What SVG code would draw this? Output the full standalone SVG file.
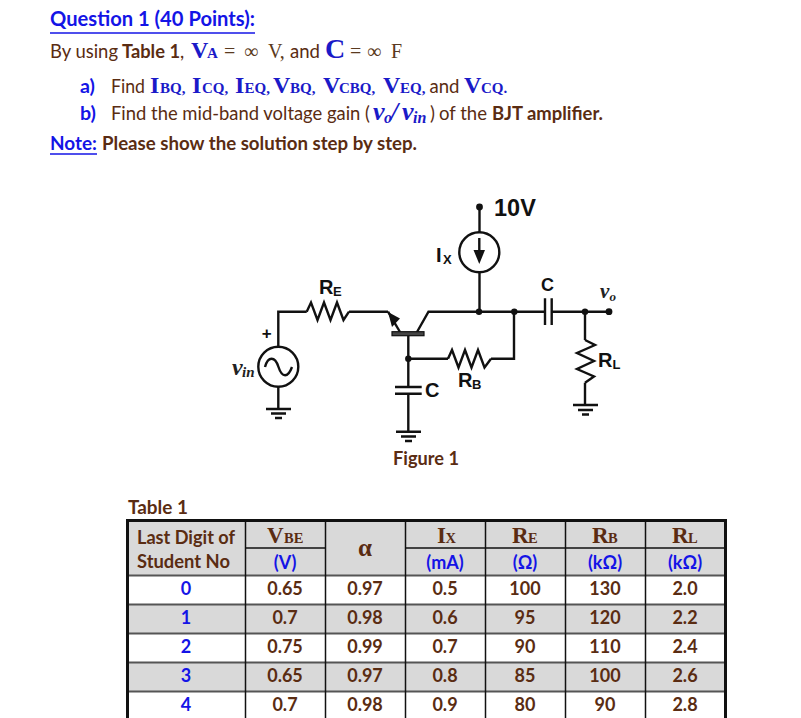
<svg xmlns="http://www.w3.org/2000/svg" width="801" height="718" viewBox="0 0 801 718">
<defs>
<style>
text{font-family:"Lato","Open Sans","Liberation Sans",sans-serif;fill:#5a2c12}
.p{font-size:18.5px}
.b{font-weight:700}
.blue{fill:#1414e6}
.title{font-size:21px;font-weight:700;fill:#1414e6}
.s{font-family:"Liberation Serif","DejaVu Serif",serif;font-weight:700;font-size:24px;fill:#1a1ac8}
.ss{font-family:"Liberation Serif","DejaVu Serif",serif;font-weight:700;font-size:15px;fill:#1a1ac8}
.sr{font-family:"Liberation Serif","DejaVu Serif",serif;font-size:20px;fill:#5a3a20}
.si{font-family:"Liberation Serif","DejaVu Serif",serif;font-weight:700;font-style:italic;font-size:26px;fill:#1a1ac8}
.sis{font-family:"Liberation Serif","DejaVu Serif",serif;font-weight:700;font-style:italic;font-size:16px;fill:#1a1ac8}
.c{font-family:"Liberation Sans",Arial,sans-serif;fill:#111;font-weight:700}
.ci{font-family:"Liberation Serif",serif;fill:#222;font-style:italic;font-weight:700}
.w{fill:none;stroke:#111;stroke-width:2.4;stroke-linejoin:miter}
.d{fill:#111}
.t{font-size:18px;font-weight:700;text-anchor:middle}
.h{font-family:"Liberation Serif","DejaVu Serif",serif;font-weight:700;font-size:23px;fill:#5a2c12}
.hs{font-family:"Liberation Serif","DejaVu Serif",serif;font-weight:700;font-size:14.5px;fill:#5a2c12}
.g{fill:#d9d9d9}
.l{stroke:#111;stroke-width:1.5;fill:none}
.lg{stroke:#555;stroke-width:2;fill:none}
.u{stroke:#1414e6;stroke-width:1.6}
</style>
</defs>
<rect width="801" height="718" fill="#fff"/>

<g id="question-text">
<text class="title" x="50" y="25.5" textLength="205" lengthAdjust="spacingAndGlyphs">Question 1 (40 Points):</text>
<line class="u" x1="50" y1="33" x2="255" y2="33"/>
<text class="p" x="50" y="58" textLength="68" lengthAdjust="spacingAndGlyphs">By using</text>
<text class="p b" x="122" y="58" textLength="58" lengthAdjust="spacingAndGlyphs">Table 1</text>
<text class="p" x="180" y="58">,</text>
<text class="s" x="191" y="58">V</text><text class="ss" x="207" y="58">A</text>
<text class="sr" x="224" y="58">=</text><text class="sr" x="244" y="58">∞</text><text class="sr" x="268" y="58">V,</text>
<text class="p" x="290" y="58" textLength="30" lengthAdjust="spacingAndGlyphs">and</text>
<text class="s" x="325" y="58" style="font-size:28px">C</text>
<text class="sr" x="350" y="58">=</text><text class="sr" x="367" y="58">∞</text><text class="sr" x="391" y="58">F</text>

<text class="p b blue" x="80" y="93" textLength="15" lengthAdjust="spacingAndGlyphs">a)</text>
<text class="p" x="111" y="93" textLength="34" lengthAdjust="spacingAndGlyphs">Find</text>
<text class="s" x="150" y="93">I</text><text class="ss" x="160" y="93">BQ,</text>
<text class="s" x="192" y="93">I</text><text class="ss" x="202" y="93">CQ,</text>
<text class="s" x="235" y="93">I</text><text class="ss" x="244.5" y="93">EQ,</text>
<text class="s" x="273" y="93">V</text><text class="ss" x="290" y="93">BQ,</text>
<text class="s" x="323" y="93">V</text><text class="ss" x="339" y="93">CBQ,</text>
<text class="s" x="383" y="93">V</text><text class="ss" x="400" y="93">EQ,</text>
<text class="p" x="429.5" y="93" textLength="30" lengthAdjust="spacingAndGlyphs">and</text>
<text class="s" x="464" y="93">V</text><text class="ss" x="481" y="93">CQ.</text>

<text class="p b blue" x="80" y="120" textLength="16" lengthAdjust="spacingAndGlyphs">b)</text>
<text class="p" x="111" y="120" textLength="259" lengthAdjust="spacingAndGlyphs">Find the mid-band voltage gain (</text>
<text class="si" x="373" y="120">v</text><text class="sis" x="384" y="123">o</text>
<text class="si" x="391" y="120">/</text>
<text class="si" x="402" y="120">v</text><text class="sis" x="413" y="123">in</text>
<text class="p" x="430" y="120">)</text>
<text class="p" x="439" y="120" textLength="48" lengthAdjust="spacingAndGlyphs">of the</text>
<text class="p b" x="492" y="120" textLength="111" lengthAdjust="spacingAndGlyphs">BJT amplifier.</text>

<text class="p b blue" x="50" y="150" textLength="47" lengthAdjust="spacingAndGlyphs">Note:</text>
<line class="u" x1="50" y1="154" x2="97" y2="154"/>
<text class="p b" x="102" y="150" textLength="315" lengthAdjust="spacingAndGlyphs">Please show the solution step by step.</text>
</g>

<g id="connectors">
<path class="w" d="M278.3 347V311.7H306.7"/>
<path class="w" d="M349 311.7H388"/>
<path class="w" d="M417 332L428.5 311.7H545"/>
<path class="w" d="M551.7 311.7H609"/>
<path class="w" d="M479.5 232V207"/>
<path class="w" d="M479.5 272V311.7"/>
<path class="w" d="M408.3 336V387"/>
<path class="w" d="M408.3 393.7V431.7"/>
<path class="w" d="M408.3 358.7H448"/>
<path class="w" d="M491 358.7H514V311.7"/>
<path class="w" d="M585 311.7V340"/>
<path class="w" d="M585 382.7V405"/>
<path class="w" d="M278.3 387V409"/>
<circle class="d" cx="479.5" cy="207" r="3.4"/>
<circle class="d" cx="479" cy="311.7" r="3.2"/>
<circle class="d" cx="514.3" cy="311.7" r="3.2"/>
<circle class="d" cx="585" cy="311.7" r="3.2"/>
<circle class="d" cx="609" cy="311.7" r="3.4"/>
<circle class="d" cx="408.3" cy="358.7" r="3.2"/>
</g>

<g id="source-vin">
<circle class="w" cx="278.3" cy="366.7" r="20"/>
<path class="w" d="M265 367C268 356 275 356 278.5 367S288 378 292 367"/>
<text class="c" x="266.7" y="339" font-size="17" text-anchor="middle">+</text>
<text class="ci" x="232" y="375" font-size="24">v</text><text class="ci" x="242" y="377" font-size="15">in</text>
<path class="w" d="M266 409H291M271 413.5H286M275 418H282"/>
</g>

<g id="resistor-re">
<path class="w" d="M306.7 311.7L311 302.5L317.5 320L324 302.5L330.5 320L337 302.5L343.5 320L349 311.7"/>
<text class="c" x="319" y="293.7" font-size="20">R</text><text class="c" x="333" y="296" font-size="13">E</text>
</g>

<g id="transistor">
<path class="w" d="M388 311.7L400 332"/>
<polygon class="d" points="388,312 400,318.5 392,327"/>
<rect x="392" y="331.7" width="32" height="4" fill="#444" stroke="#111" stroke-width="1.2"/>
</g>

<g id="current-source">
<circle class="w" cx="479.3" cy="252.3" r="20"/>
<path class="w" d="M479.3 238V252"/>
<polygon class="d" points="473.5,250 485,250 479.3,264"/>
<text class="c" x="436" y="262" font-size="20">I</text><text class="c" x="443" y="264" font-size="13">X</text>
<text class="c" x="494" y="216" font-size="23.5">10V</text>
</g>

<g id="resistor-rb">
<path class="w" d="M448 358.7L452 350L458.5 367.5L465 350L471.5 367.5L478 350L484.5 367.5L491 358.7"/>
<text class="c" x="458" y="386.7" font-size="20">R</text><text class="c" x="472" y="389" font-size="13">B</text>
</g>

<g id="capacitor-base">
<path class="w" d="M395 387H421.7M395 393.7H421.7"/>
<text class="c" x="425" y="397" font-size="20">C</text>
<path class="w" d="M396 431.7H421M401 436.5H416M405 441H412"/>
</g>

<g id="capacitor-out">
<path class="w" d="M545 298.3V325M551.7 298.3V325"/>
<text class="c" x="541" y="290.7" font-size="18">C</text>
</g>

<g id="resistor-rl">
<path class="w" d="M585 340L595 345L577 353L594 361L577 369L594 376.5L585 382.7"/>
<text class="c" x="598" y="366.7" font-size="20">R</text><text class="c" x="612.5" y="369" font-size="13">L</text>
<path class="w" d="M573 405H598M578 410H593M582 414.5H589"/>
</g>

<g id="output-label">
<text class="ci" x="600" y="298" font-size="21">v</text><text class="ci" x="609.5" y="301" font-size="13">o</text>
</g>

<g id="figure-caption">
<text class="p b" x="393" y="465" textLength="66" lengthAdjust="spacingAndGlyphs">Figure 1</text>
</g>

<g id="table">
<text class="p b" x="128" y="514" textLength="60" lengthAdjust="spacingAndGlyphs">Table 1</text>
<rect class="g" x="128" y="521" width="597" height="54.5"/>
<rect class="g" x="128" y="604.5" width="597" height="29"/>
<rect class="g" x="128" y="662.5" width="597" height="29"/>
<path class="lg" d="M128 575.5H725M128 604.5H725M128 633.5H725M128 662.5H725M128 691.5H725"/>
<path class="l" d="M245.5 521V718M325.5 521V718M405.5 521V718M485.5 521V718M565.5 521V718M645.5 521V718"/>
<path class="l" d="M245.5 548H325.5M405.5 548H725"/>
<path fill="none" stroke="#111" stroke-width="3" d="M127.5 718V520.5H725.5V718"/>

<text class="p b" x="137" y="543.5" textLength="98" lengthAdjust="spacingAndGlyphs">Last Digit of</text>
<text class="p b" x="137" y="567.5" textLength="93" lengthAdjust="spacingAndGlyphs">Student No</text>
<text class="h" x="267" y="543">V</text><text class="hs" x="284" y="543">BE</text>
<text class="t blue" x="285" y="569">(V)</text>
<text class="h" x="365" y="556" text-anchor="middle" style="font-size:25px">α</text>
<text class="h" x="437" y="543">I</text><text class="hs" x="445.5" y="543">X</text>
<text class="t blue" x="445" y="569">(mA)</text>
<text class="h" x="512" y="543">R</text><text class="hs" x="528" y="543">E</text>
<text class="t blue" x="525" y="569">(Ω)</text>
<text class="h" x="592" y="543">R</text><text class="hs" x="608" y="543">B</text>
<text class="t blue" x="605" y="569">(kΩ)</text>
<text class="h" x="672" y="543">R</text><text class="hs" x="688" y="543">L</text>
<text class="t blue" x="685" y="569">(kΩ)</text>

<text class="t blue" x="186" y="595">0</text><text class="t" x="285" y="595">0.65</text><text class="t" x="365" y="595">0.97</text><text class="t" x="445" y="595">0.5</text><text class="t" x="525" y="595">100</text><text class="t" x="605" y="595">130</text><text class="t" x="685" y="595">2.0</text>
<text class="t blue" x="186" y="624">1</text><text class="t" x="285" y="624">0.7</text><text class="t" x="365" y="624">0.98</text><text class="t" x="445" y="624">0.6</text><text class="t" x="525" y="624">95</text><text class="t" x="605" y="624">120</text><text class="t" x="685" y="624">2.2</text>
<text class="t blue" x="186" y="653">2</text><text class="t" x="285" y="653">0.75</text><text class="t" x="365" y="653">0.99</text><text class="t" x="445" y="653">0.7</text><text class="t" x="525" y="653">90</text><text class="t" x="605" y="653">110</text><text class="t" x="685" y="653">2.4</text>
<text class="t blue" x="186" y="682">3</text><text class="t" x="285" y="682">0.65</text><text class="t" x="365" y="682">0.97</text><text class="t" x="445" y="682">0.8</text><text class="t" x="525" y="682">85</text><text class="t" x="605" y="682">100</text><text class="t" x="685" y="682">2.6</text>
<text class="t blue" x="186" y="711">4</text><text class="t" x="285" y="711">0.7</text><text class="t" x="365" y="711">0.98</text><text class="t" x="445" y="711">0.9</text><text class="t" x="525" y="711">80</text><text class="t" x="605" y="711">90</text><text class="t" x="685" y="711">2.8</text>
</g>
</svg>
